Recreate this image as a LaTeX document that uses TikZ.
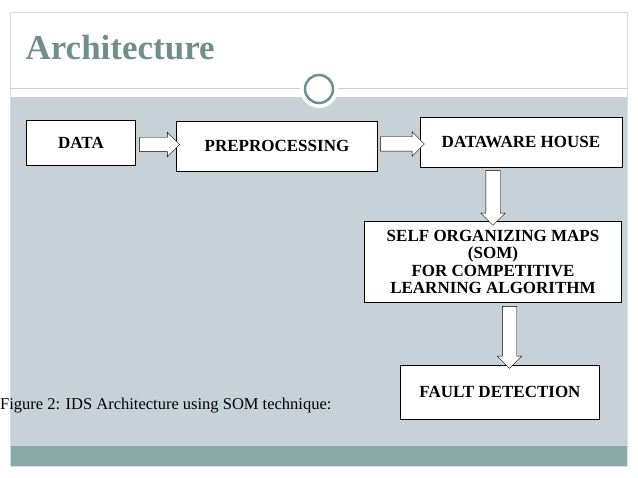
\documentclass[tikz,border=0pt]{standalone}
\usepackage{fontspec}
\setmainfont{Liberation Serif}
\usetikzlibrary{positioning,shapes.arrows,calc}
\definecolor{slidegrey}{HTML}{C6D2D8}
\definecolor{teal}{HTML}{8BA9A7}
\definecolor{titlecol}{HTML}{6F8F8E}
\tikzset{
  box/.style={draw, fill=white, font=\bfseries\fontsize{17}{19}\selectfont, align=center},
  blk/.style={single arrow, draw, fill=white, single arrow head extend=5pt, inner sep=0pt, minimum height=40pt}
}
\newcommand{\shaft}{\rule{0pt}{14pt}}
\begin{document}
\begin{tikzpicture}[x=1pt, y=-1pt]
\useasboundingbox (0,0) rectangle (638,478);
% slide background
\fill[slidegrey] (10,97) rectangle (627,446);
\fill[teal] (10,446) rectangle (627,466);
\draw[slidegrey!70!white] (10,12) rectangle (627,466);
\draw[slidegrey, line width=1pt] (10,89) -- (627,89);
\node (title) [anchor=west, text=titlecol, font=\bfseries\fontsize{35}{38}\selectfont] at (22,48) {Architecture};
\fill[white] (319,89) circle (19);
\draw[titlecol, line width=2.5pt] (319,89) circle (14);

\node (data) [box, minimum width=109pt, minimum height=45pt] at (81,143) {DATA};
\node (prep) [box, minimum width=201pt, minimum height=50pt] at (277,146) {PREPROCESSING};
\node (dw) [box, minimum width=202pt, minimum height=50pt] at (521,142) {DATAWARE HOUSE};
\node (som) [box, minimum width=257pt, minimum height=81pt, inner sep=1pt, font=\bfseries\fontsize{17}{17.5}\selectfont] at (493,262) {SELF ORGANIZING MAPS\\(SOM)\\FOR COMPETITIVE\\LEARNING ALGORITHM};
\node (fault) [box, minimum width=199pt, minimum height=54pt] at (500,392) {FAULT DETECTION};

\node (a1) [blk] at ($(data.east)!0.5!(prep.west)$) {\shaft};
\node (a2) [blk, minimum height=44pt] at ($(prep.east)!0.5!(dw.west)$) {\shaft};
\node (a3) [blk, rotate=-90, minimum height=55pt] at ($(dw.south)!0.5!(som.north)+(-14,0)$) {\shaft};
\node (a4) [blk, rotate=-90, minimum height=62pt] at ($(som.south)!0.5!(fault.north)+(13,0)$) {\shaft};

\node (cap) [anchor=base east, font=\fontsize{16.5}{18}\selectfont] at (335,410) {Figure 2: IDS Architecture using SOM technique:};
\end{tikzpicture}
\end{document}
